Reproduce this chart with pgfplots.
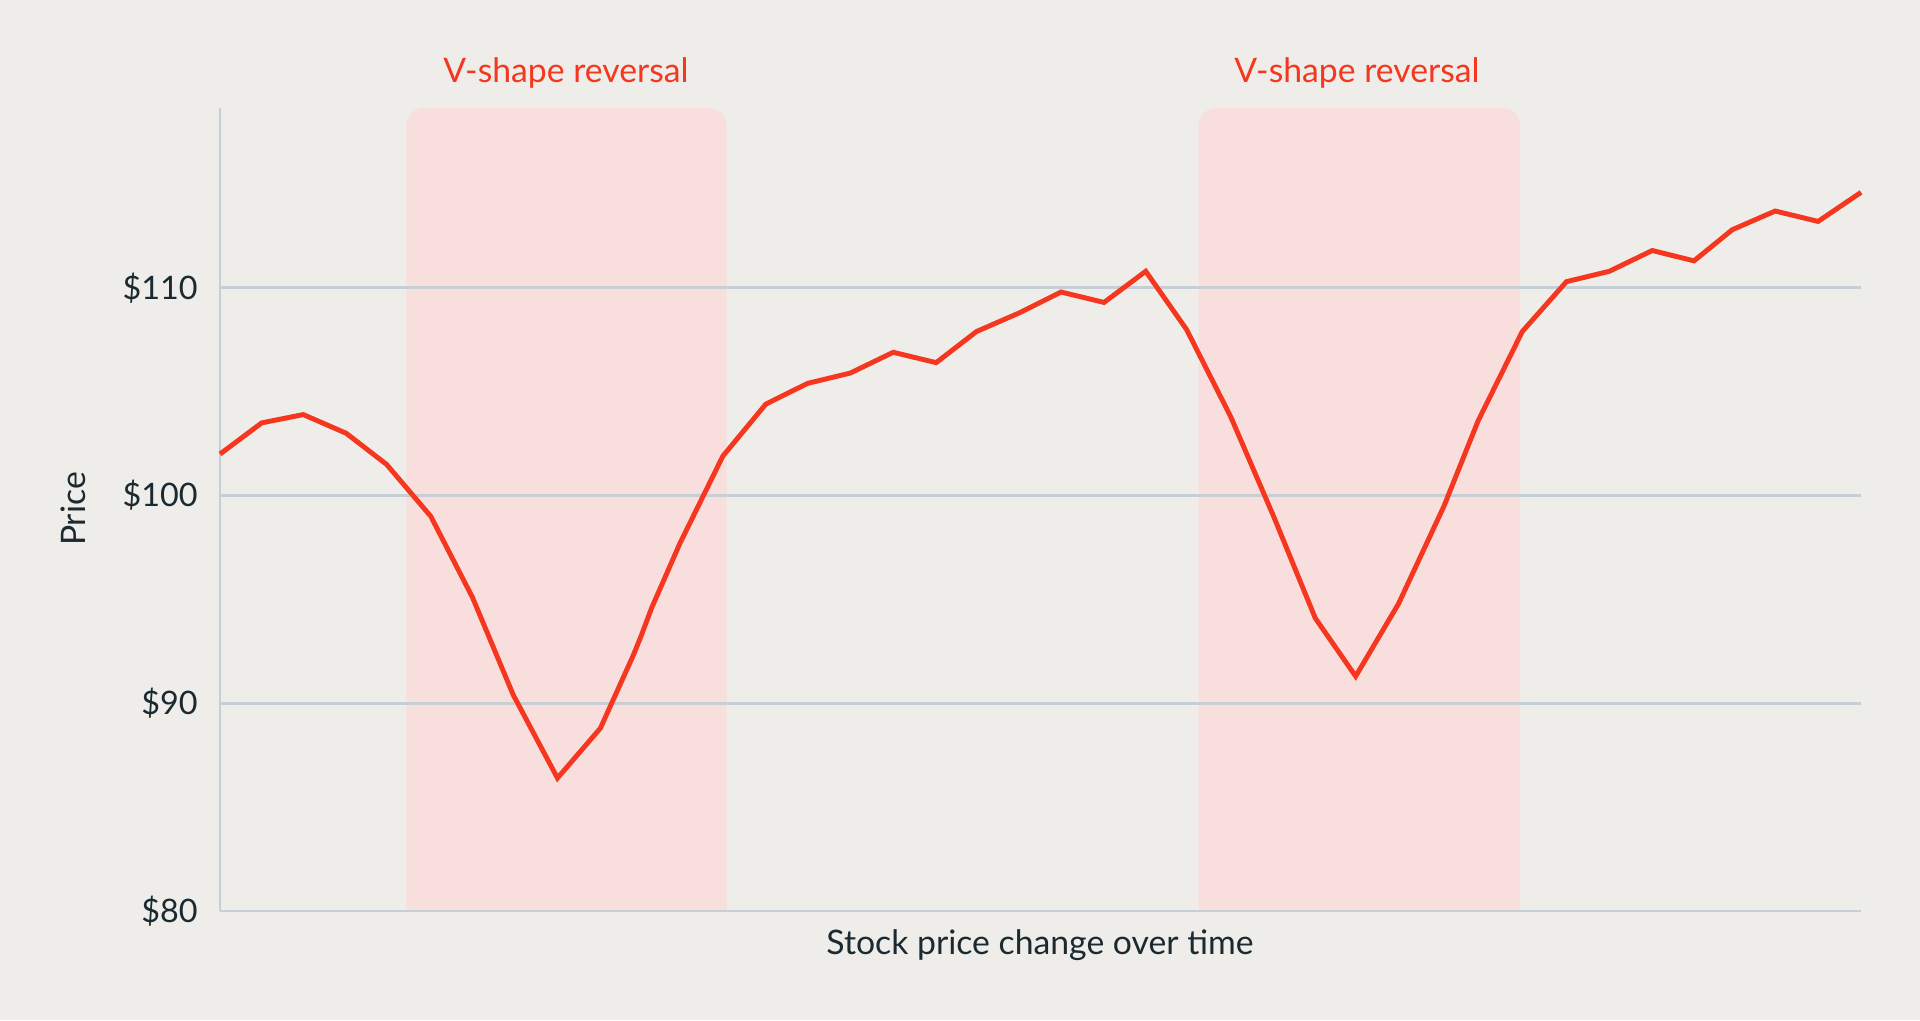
\documentclass[border=0pt]{standalone}
\usepackage{pgfplots}
\pgfplotsset{compat=1.18}
\usepackage{fontspec}
\setmainfont{Lato}
\setsansfont{Lato}

\definecolor{bgc}{HTML}{EFEDE9}
\definecolor{vpink}{HTML}{F9DEDE}
\definecolor{vred}{HTML}{F5371F}
\definecolor{gridc}{HTML}{C6CED6}
\definecolor{txt}{HTML}{1A2A30}

\begin{document}
\begin{tikzpicture}
\begin{axis}[
  set layers,
  at={(2.2cm,1.09cm)}, anchor=south west,
  width=16.41cm, height=8.03cm, scale only axis,
  xmin=0, xmax=39, ymin=80, ymax=118.66,
  xtick=\empty,
  ytick={80,90,100,110},
  yticklabels={\$80,\$90,\$100,\$110},
  ymajorgrids, grid style={gridc, line width=0.8pt},
  axis x line*=bottom, axis y line*=left,
  axis line style={gridc, line width=0.8pt, -},
  major tick length=0pt,
  tick label style={font=\fontsize{9.2}{11}\selectfont, text=txt},
  yticklabel style={xshift=-0.1cm},
  clip=false,
]
% page background
\begin{pgfonlayer}{axis background}
\fill[bgc] (rel axis cs:-0.13406,-0.13574) rectangle (rel axis cs:1.03595,1.13450);
\end{pgfonlayer}
% shaded windows (rounded only at the top)
\addplot[on layer=axis background, fill=vpink, draw=none, rounded corners=5pt]
  coordinates {(4.43,80) (4.43,118.66) (12.04,118.66) (12.04,80)};
\addplot[on layer=axis background, fill=vpink, draw=none, rounded corners=5pt]
  coordinates {(23.26,80) (23.26,118.66) (30.9,118.66) (30.9,80)};

\addplot[vred, line width=1.4pt, line join=miter] coordinates {
(0,102.0) (0.99,103.5) (1.98,103.9) (3.0,103.0) (3.96,101.5)
(5.01,99.0) (6.0,95.1) (6.97,90.4) (8.02,86.4) (9.04,88.8)
(9.82,92.3) (10.0,93.2) (10.26,94.6) (10.93,97.7) (11.95,101.9)
(12.97,104.4) (13.96,105.4) (14.98,105.9) (16.0,106.9) (17.02,106.4)
(17.98,107.9) (19.0,108.8) (19.99,109.8) (21.01,109.3) (22.0,110.8)
(22.97,108.0) (24.02,103.8) (25.04,99.0) (26.03,94.1) (26.99,91.3)
(28.01,94.8) (29.09,99.5) (29.9,103.6) (30.95,107.9) (32.0,110.3)
(33.02,110.8) (34.04,111.8) (35.03,111.3) (35.94,112.8) (36.96,113.7)
(37.98,113.2) (39.0,114.6)
};
\end{axis}
\node[text=vred, font=\fontsize{9.6}{12}\selectfont] at (5.66,9.47) {V-shape reversal};
\node[text=vred, font=\fontsize{9.6}{12}\selectfont] at (13.57,9.47) {V-shape reversal};
\node[text=txt, font=\fontsize{9.6}{12}\selectfont, rotate=90] at (0.73,5.11) {Price};
\node[text=txt, font=\fontsize{9.6}{12}\selectfont] at (10.4,0.75) {Stock price change over time};
\end{tikzpicture}
\end{document}
